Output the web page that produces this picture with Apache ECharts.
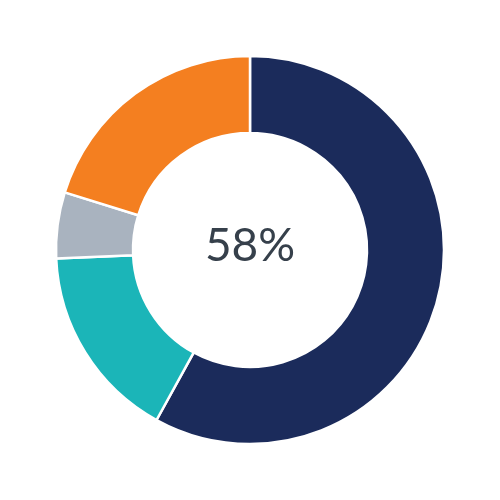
<!DOCTYPE html>
<html><head><meta charset="utf-8">
<script src="https://cdn.jsdelivr.net/npm/echarts@6/dist/echarts.min.js"></script>
<style>html,body{margin:0;padding:0;background:#fff}#c{width:500px;height:500px}</style>
</head><body><div id="c"></div>
<script>
const categories = ['A', 'B', 'C', 'D'];
const values = [58, 16.3, 5.5, 20.2];
const colors = ['#1b2b5b', '#1bb5b8', '#a9b3bf', '#f47f20'];
const centerLabel = '58%';
const chart = echarts.init(document.getElementById('c'));
chart.setOption({
  animation: false,
  graphic: [{
    type: 'text', left: 'center', top: 223,
    style: { text: centerLabel, font: 'normal 46px Lato', fill: '#36404b' }
  }],
  series: [{
    type: 'pie',
    radius: [117, 194],
    center: ['50%', '50%'],
    startAngle: 90,
    clockwise: true,
    label: { show: false },
    labelLine: { show: false },
    itemStyle: { borderColor: '#fff', borderWidth: 2.5 },
    data: categories.map((n, i) => ({ name: n, value: values[i], itemStyle: { color: colors[i] } }))
  }]
});
</script></body></html>
